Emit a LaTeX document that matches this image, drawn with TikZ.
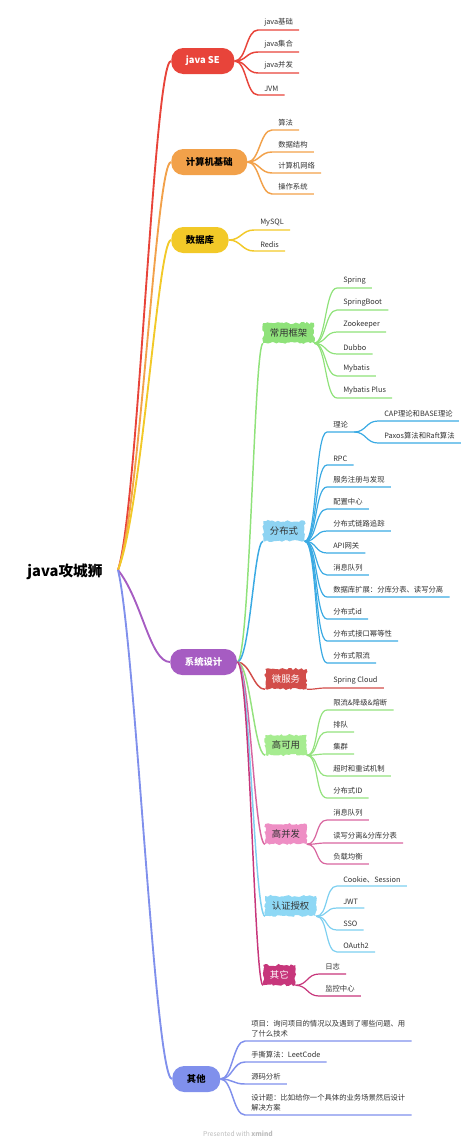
\documentclass[tikz,border=0pt]{standalone}
\usepackage{fontspec}
\setmainfont{Noto Sans CJK SC}
\usetikzlibrary{calc,decorations.pathmorphing}
\definecolor{ink}{HTML}{333333}
\definecolor{cse}{HTML}{E8443A}
\definecolor{ccs}{HTML}{F2A14A}
\definecolor{cdb}{HTML}{F2C928}
\definecolor{csys}{HTML}{A65CC2}
\definecolor{cfw}{HTML}{8FE27A}
\definecolor{cdist}{HTML}{3AAAE3}
\definecolor{cdistbg}{HTML}{8ED3F2}
\definecolor{cms}{HTML}{D24D4A}
\definecolor{cha}{HTML}{94E27E}
\definecolor{chabg}{HTML}{A6EC90}
\definecolor{chc}{HTML}{D8669F}
\definecolor{chcbg}{HTML}{EE8EC4}
\definecolor{cauth}{HTML}{7DCFF0}
\definecolor{cauthbg}{HTML}{8ED8F5}
\definecolor{cmisc}{HTML}{C7367B}
\definecolor{coth}{HTML}{8090EC}
\definecolor{wm}{HTML}{BBBBBB}

\begin{document}
\begin{tikzpicture}[
  x=0.75pt, y=-0.75pt,
  ctr/.style={font=\fontsize{11}{13}\selectfont\bfseries, text=black},
  mainbox/.style={anchor=west, fill=#1, rounded corners=9pt, minimum height=19.5pt,
                  inner xsep=11pt, font=\fontsize{7}{8}\selectfont\bfseries},
  subbox/.style={anchor=west, fill=#1, minimum height=15pt, inner xsep=5pt,
                 decorate, decoration={random steps, segment length=1.6pt, amplitude=0.8pt},
                 font=\fontsize{7}{8}\selectfont, text=ink},
  lf/.style={anchor=south west, inner xsep=4.5pt, inner ysep=2.5pt, align=left,
             font=\fontsize{5.5}{7.5}\selectfont, text=ink},
  br/.style={draw=#1, line width=1.4pt},
  st/.style={draw=#1, line width=1.1pt},
  tw/.style={draw=#1, line width=0.9pt},
  fanout/.style={out=0, in=180, distance=9pt},
]
\pgfmathsetseed{7}
\useasboundingbox (0,0) rectangle (474,1147);

% centre
\node[ctr] (root) at (65,572) {java攻城狮};
\coordinate (hub) at (118,570);

% main topics
\node[mainbox=cse, text=white] (jse) at (171,61) {java SE};
\node[mainbox=ccs] (cs) at (171,162) {计算机基础};
\node[mainbox=cdb] (db) at (171,240) {数据库};
\node[mainbox=csys, text=white] (sys) at (170,662) {系统设计};
\node[mainbox=coth] (oth) at (172,1079) {其他};

\draw[br=cse] (hub) .. controls (138,510) and (154,61) .. (jse.west);
\draw[br=ccs] (hub) .. controls (140,510) and (156,162) .. (cs.west);
\draw[br=cdb] (hub) .. controls (142,510) and (158,240) .. (db.west);
\draw[br=csys] (hub) .. controls (142,600) and (150,662) .. (sys.west);
\draw[br=coth] (hub) .. controls (135,640) and (155,1079) .. (oth.west);

% java SE
\foreach \i/\y/\t in {1/30/java基础, 2/52/java集合, 3/73/java并发, 4/95/JVM} {
  \node[lf] (jse\i) at (258,\y) {\t};
  \draw[st=cse] (jse.east) to[fanout] (jse\i.south west) -- (jse\i.south east);
}

% 计算机基础
\foreach \i/\y/\t in {1/130/算法, 2/152/数据结构, 3/173/计算机网络, 4/194/操作系统} {
  \node[lf] (cs\i) at (272,\y) {\t};
  \draw[st=ccs] (cs.east) to[fanout] (cs\i.south west) -- (cs\i.south east);
}

% 数据库
\foreach \i/\y/\t in {1/230/MySQL, 2/251/Redis} {
  \node[lf] (db\i) at (254,\y) {\t};
  \draw[st=cdb] (db.east) to[fanout] (db\i.south west) -- (db\i.south east);
}

% 系统设计
\node[subbox=cfw] (fw) at (263,333) {常用框架};
\node[subbox=cdistbg] (dist) at (263,531) {分布式};
\node[subbox=cms, text=white] (ms) at (265,679) {微服务};
\node[subbox=chabg] (ha) at (265,745) {高可用};
\node[subbox=chcbg] (hc) at (265,834) {高并发};
\node[subbox=cauthbg] (auth) at (265,906) {认证授权};
\node[subbox=cmisc, text=white] (misc) at (263,975) {其它};

\foreach \s/\c/\y in {fw/cfw/343, dist/cdist/542, ms/cms/690, ha/cha/753,
                      hc/chc/843, auth/cauth/915, misc/cmisc/985}
  \draw[st=\c] (sys.east) .. controls (250,662) and (254,\y) .. (\s.south west);

\foreach \i/\y/\t in {1/288/Spring, 2/310/SpringBoot, 3/332/Zookeeper,
                      4/354/Dubbo, 5/376/Mybatis, 6/398/Mybatis Plus} {
  \node[lf] (fw\i) at (337,\y) {\t};
  \draw[tw=cfw] (fw.south east) to[fanout] (fw\i.south west) -- (fw\i.south east);
}

\foreach \i/\y/\t in {1/432/理论, 2/465/RPC, 3/487/服务注册与发现, 4/509/配置中心,
                      5/531/分布式链路追踪, 6/553/API网关, 7/575/消息队列,
                      8/597/数据库扩展：分库分表、读写分离, 9/619/分布式id,
                      10/641/分布式接口幂等性, 11/663/分布式限流} {
  \node[lf] (dist\i) at (327,\y) {\t};
  \draw[tw=cdist] (dist.south east) to[fanout] (dist\i.south west) -- (dist\i.south east);
}
\foreach \i/\y/\t in {1/421/CAP理论和BASE理论, 2/443/Paxos算法和Raft算法} {
  \node[lf] (th\i) at (378,\y) {\t};
  \draw[tw=cdist] (dist1.south east) to[fanout] (th\i.south west) -- (th\i.south east);
}

\node[lf] (ms1) at (327,688) {Spring Cloud};
\draw[tw=cms] (ms.south east) to[fanout] (ms1.south west) -- (ms1.south east);

\foreach \i/\y/\t in {1/710/限流\&降级\&熔断, 2/732/排队, 3/754/集群,
                      4/776/超时和重试机制, 5/798/分布式ID} {
  \node[lf] (ha\i) at (327,\y) {\t};
  \draw[tw=cha] (ha.south east) to[fanout] (ha\i.south west) -- (ha\i.south east);
}

\foreach \i/\y/\t in {1/820/消息队列, 2/843/读写分离\&分库分表, 3/864/负载均衡} {
  \node[lf] (hc\i) at (327,\y) {\t};
  \draw[tw=chc] (hc.south east) to[fanout] (hc\i.south west) -- (hc\i.south east);
}

\foreach \i/\y/\t in {1/886/Cookie、Session, 2/908/JWT, 3/930/SSO, 4/952/OAuth2} {
  \node[lf] (auth\i) at (337,\y) {\t};
  \draw[tw=cauth] (auth.south east) to[fanout] (auth\i.south west) -- (auth\i.south east);
}

\foreach \i/\y/\t in {1/974/日志, 2/996/监控中心} {
  \node[lf] (misc\i) at (319,\y) {\t};
  \draw[tw=cmisc] (misc.south east) to[fanout] (misc\i.south west) -- (misc\i.south east);
}

% 其他
\foreach \i/\y/\t in {1/1041/{项目：询问项目的情况以及遇到了哪些问题、用\\了什么技术},
                      2/1062/手撕算法：LeetCode, 3/1084/源码分析,
                      4/1115/{设计题：比如给你一个具体的业务场景然后设计\\解决方案}} {
  \node[lf] (oth\i) at (245,\y) {\t};
  \draw[st=coth] (oth.east) to[fanout] (oth\i.south west) -- (oth\i.south east);
}

\node[font=\fontsize{5}{6}\selectfont, text=wm] (credit) at (238,1134)
  {Presented with \textbf{xmind}};

\end{tikzpicture}
\end{document}
